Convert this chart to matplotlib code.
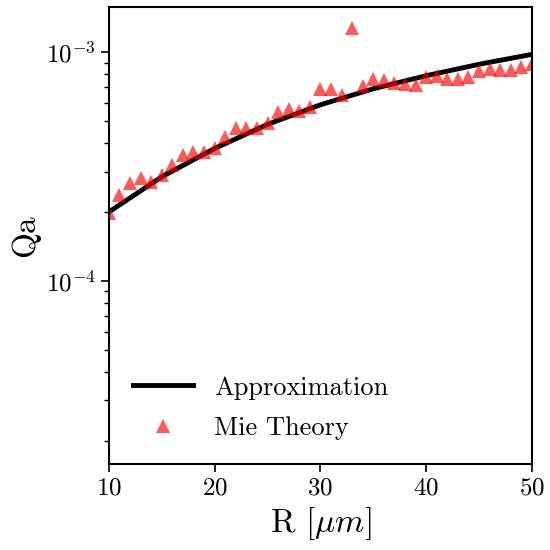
import numpy as np
import matplotlib
matplotlib.use('Agg')
import matplotlib.pyplot as plt

plt.rcParams['font.family'] = 'serif'
plt.rcParams['font.serif'] = ['cmr10']
plt.rcParams['mathtext.fontset'] = 'cm'
plt.rcParams['axes.formatter.use_mathtext'] = True
plt.rcParams['axes.unicode_minus'] = True

# approximation curve
r_approx = [10, 15, 20, 25, 30, 35, 40, 45, 50]
q_approx = [2.00e-4, 2.85e-4, 3.79e-4, 4.83e-4, 5.88e-4, 6.91e-4, 7.88e-4, 8.84e-4, 9.77e-4]

# Mie theory points, R = 10..50
r_mie = list(range(10, 51))
q_mie = [1.97e-4, 2.37e-4, 2.67e-4, 2.82e-4, 2.70e-4, 2.90e-4, 3.21e-4, 3.55e-4, 3.67e-4, 3.67e-4,
         3.82e-4, 4.24e-4, 4.64e-4, 4.67e-4, 4.64e-4, 4.88e-4, 5.48e-4, 5.61e-4, 5.53e-4, 5.77e-4,
         6.87e-4, 6.87e-4, 6.49e-4, 1.28e-3, 7.10e-4, 7.62e-4, 7.54e-4, 7.30e-4, 7.27e-4, 7.17e-4,
         7.80e-4, 7.83e-4, 7.64e-4, 7.62e-4, 7.80e-4, 8.29e-4, 8.40e-4, 8.35e-4, 8.35e-4, 8.62e-4,
         8.84e-4]

fig = plt.figure(figsize=(5.5, 5.5), dpi=100)
ax = fig.add_axes([0.198, 0.156, 0.769, 0.832])

ax.plot(r_approx, q_approx, color='k', lw=3.5, label='Approximation')
ax.plot(r_mie, q_mie, '^', color='r', alpha=0.65, ms=10, mew=0, label='Mie Theory')

ax.set_yscale('log')
ax.set_xlim(10, 50)
ax.set_ylim(1.58e-5, 1.58e-3)
ax.set_xticks([10, 20, 30, 40, 50])

ax.set_xlabel(r'R [$\mu m$]', fontsize=24)
ax.set_ylabel('Qa', fontsize=24)
ax.tick_params(labelsize=18, width=1.2, length=6)
ax.tick_params(which='minor', width=1.0, length=3.5)
for s in ax.spines.values():
    s.set_linewidth(1.5)

ax.legend(loc='lower left', frameon=False, fontsize=19, handlelength=2.3,
          numpoints=1, labelspacing=0.65)

fig.savefig('out.png', dpi=100)
